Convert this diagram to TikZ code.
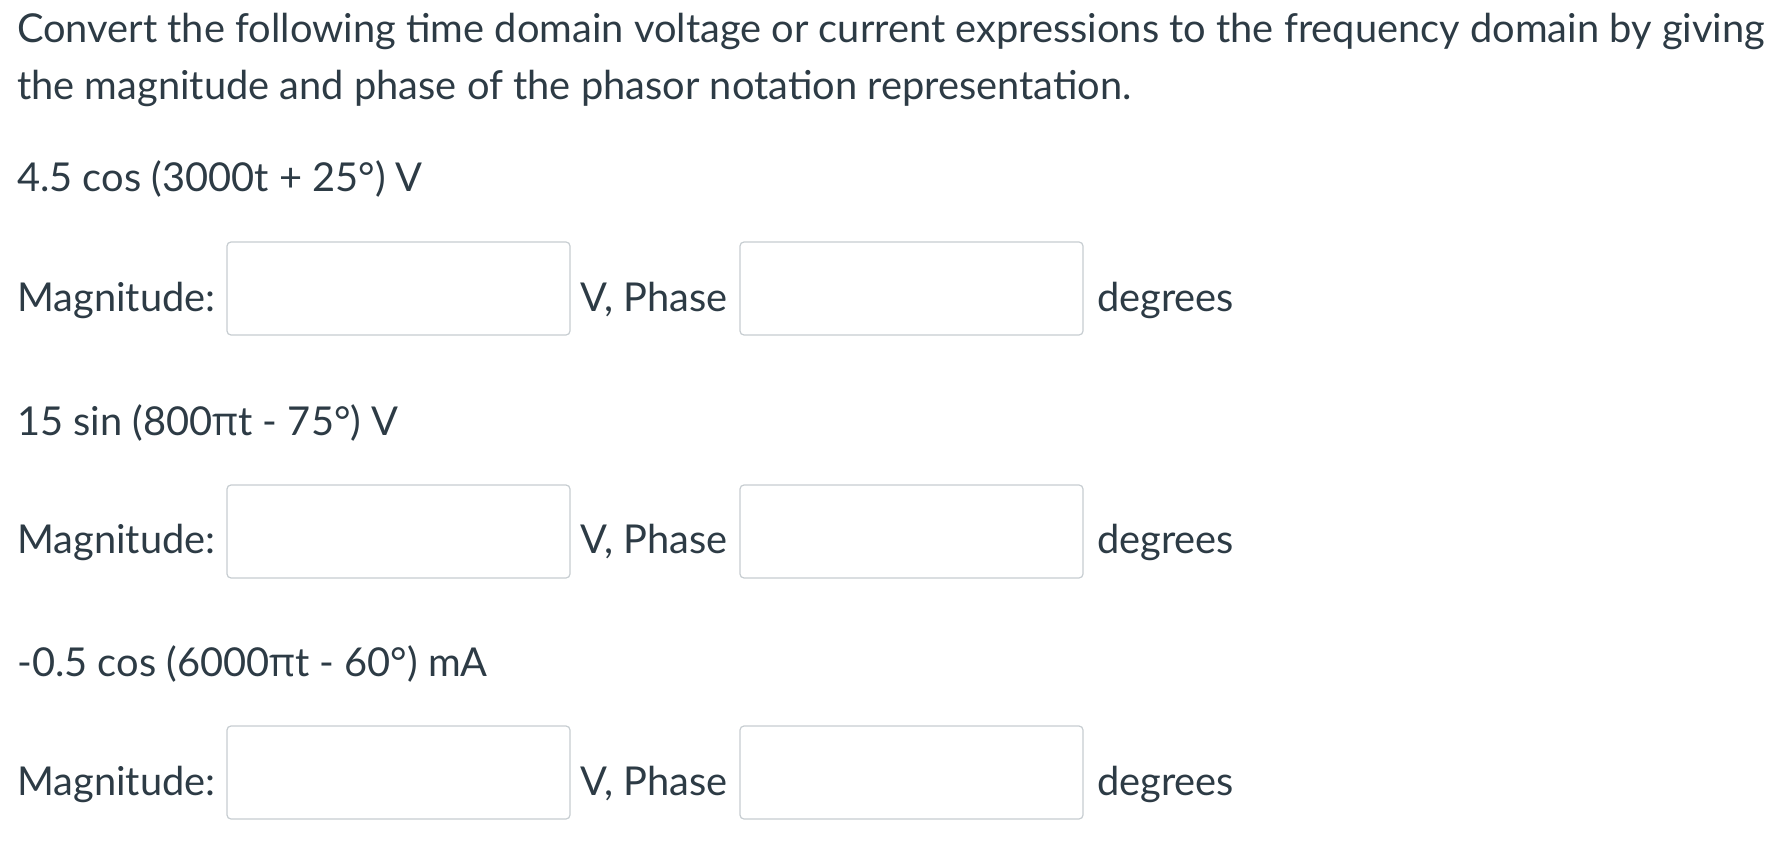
\documentclass[tikz,border=0pt]{standalone}
\usepackage{fontspec}
\setmainfont{Lato}
\newfontfamily\pifont{Open Sans}
\definecolor{txt}{HTML}{2D3B45}
\definecolor{bd}{HTML}{C7CDD1}
\begin{document}
\begin{tikzpicture}[x=1pt,y=-1pt,
  t/.style={anchor=base west,inner sep=0pt,text=txt,font=\fontsize{39.8}{46}\selectfont},
  inbox/.style={draw=bd,line width=1.2pt,rounded corners=4pt,fill=white}]
\useasboundingbox (0,0) rectangle (1782,850);
\node[t] (l1) at (17,43) {Convert the following time domain voltage or current expressions to the frequency domain by giving};
\node[t] (l2) at (17,100) {the magnitude and phase of the phasor notation representation.};
\node[t] (e1) at (17,192) {4.5 cos (3000t + 25°) V};
\node[t] (e2) at (17,435) {15 sin (800{\pifont π}t - 75°) V};
\node[t] (e3) at (17,676) {-0.5 cos (6000{\pifont π}t - 60°) mA};
\foreach \i/\top/\b in {1/242/311, 2/485/553, 3/726/795}{
  \node[t] (m\i) at (17,\b) {Magnitude:};
  \draw[inbox] (227,\top) rectangle (570,\top+93);
  \node[t] (v\i) at (580,\b) {V, Phase};
  \draw[inbox] (740,\top) rectangle (1083,\top+93);
  \node[t] (d\i) at (1097,\b) {degrees};
}
\end{tikzpicture}
\end{document}
